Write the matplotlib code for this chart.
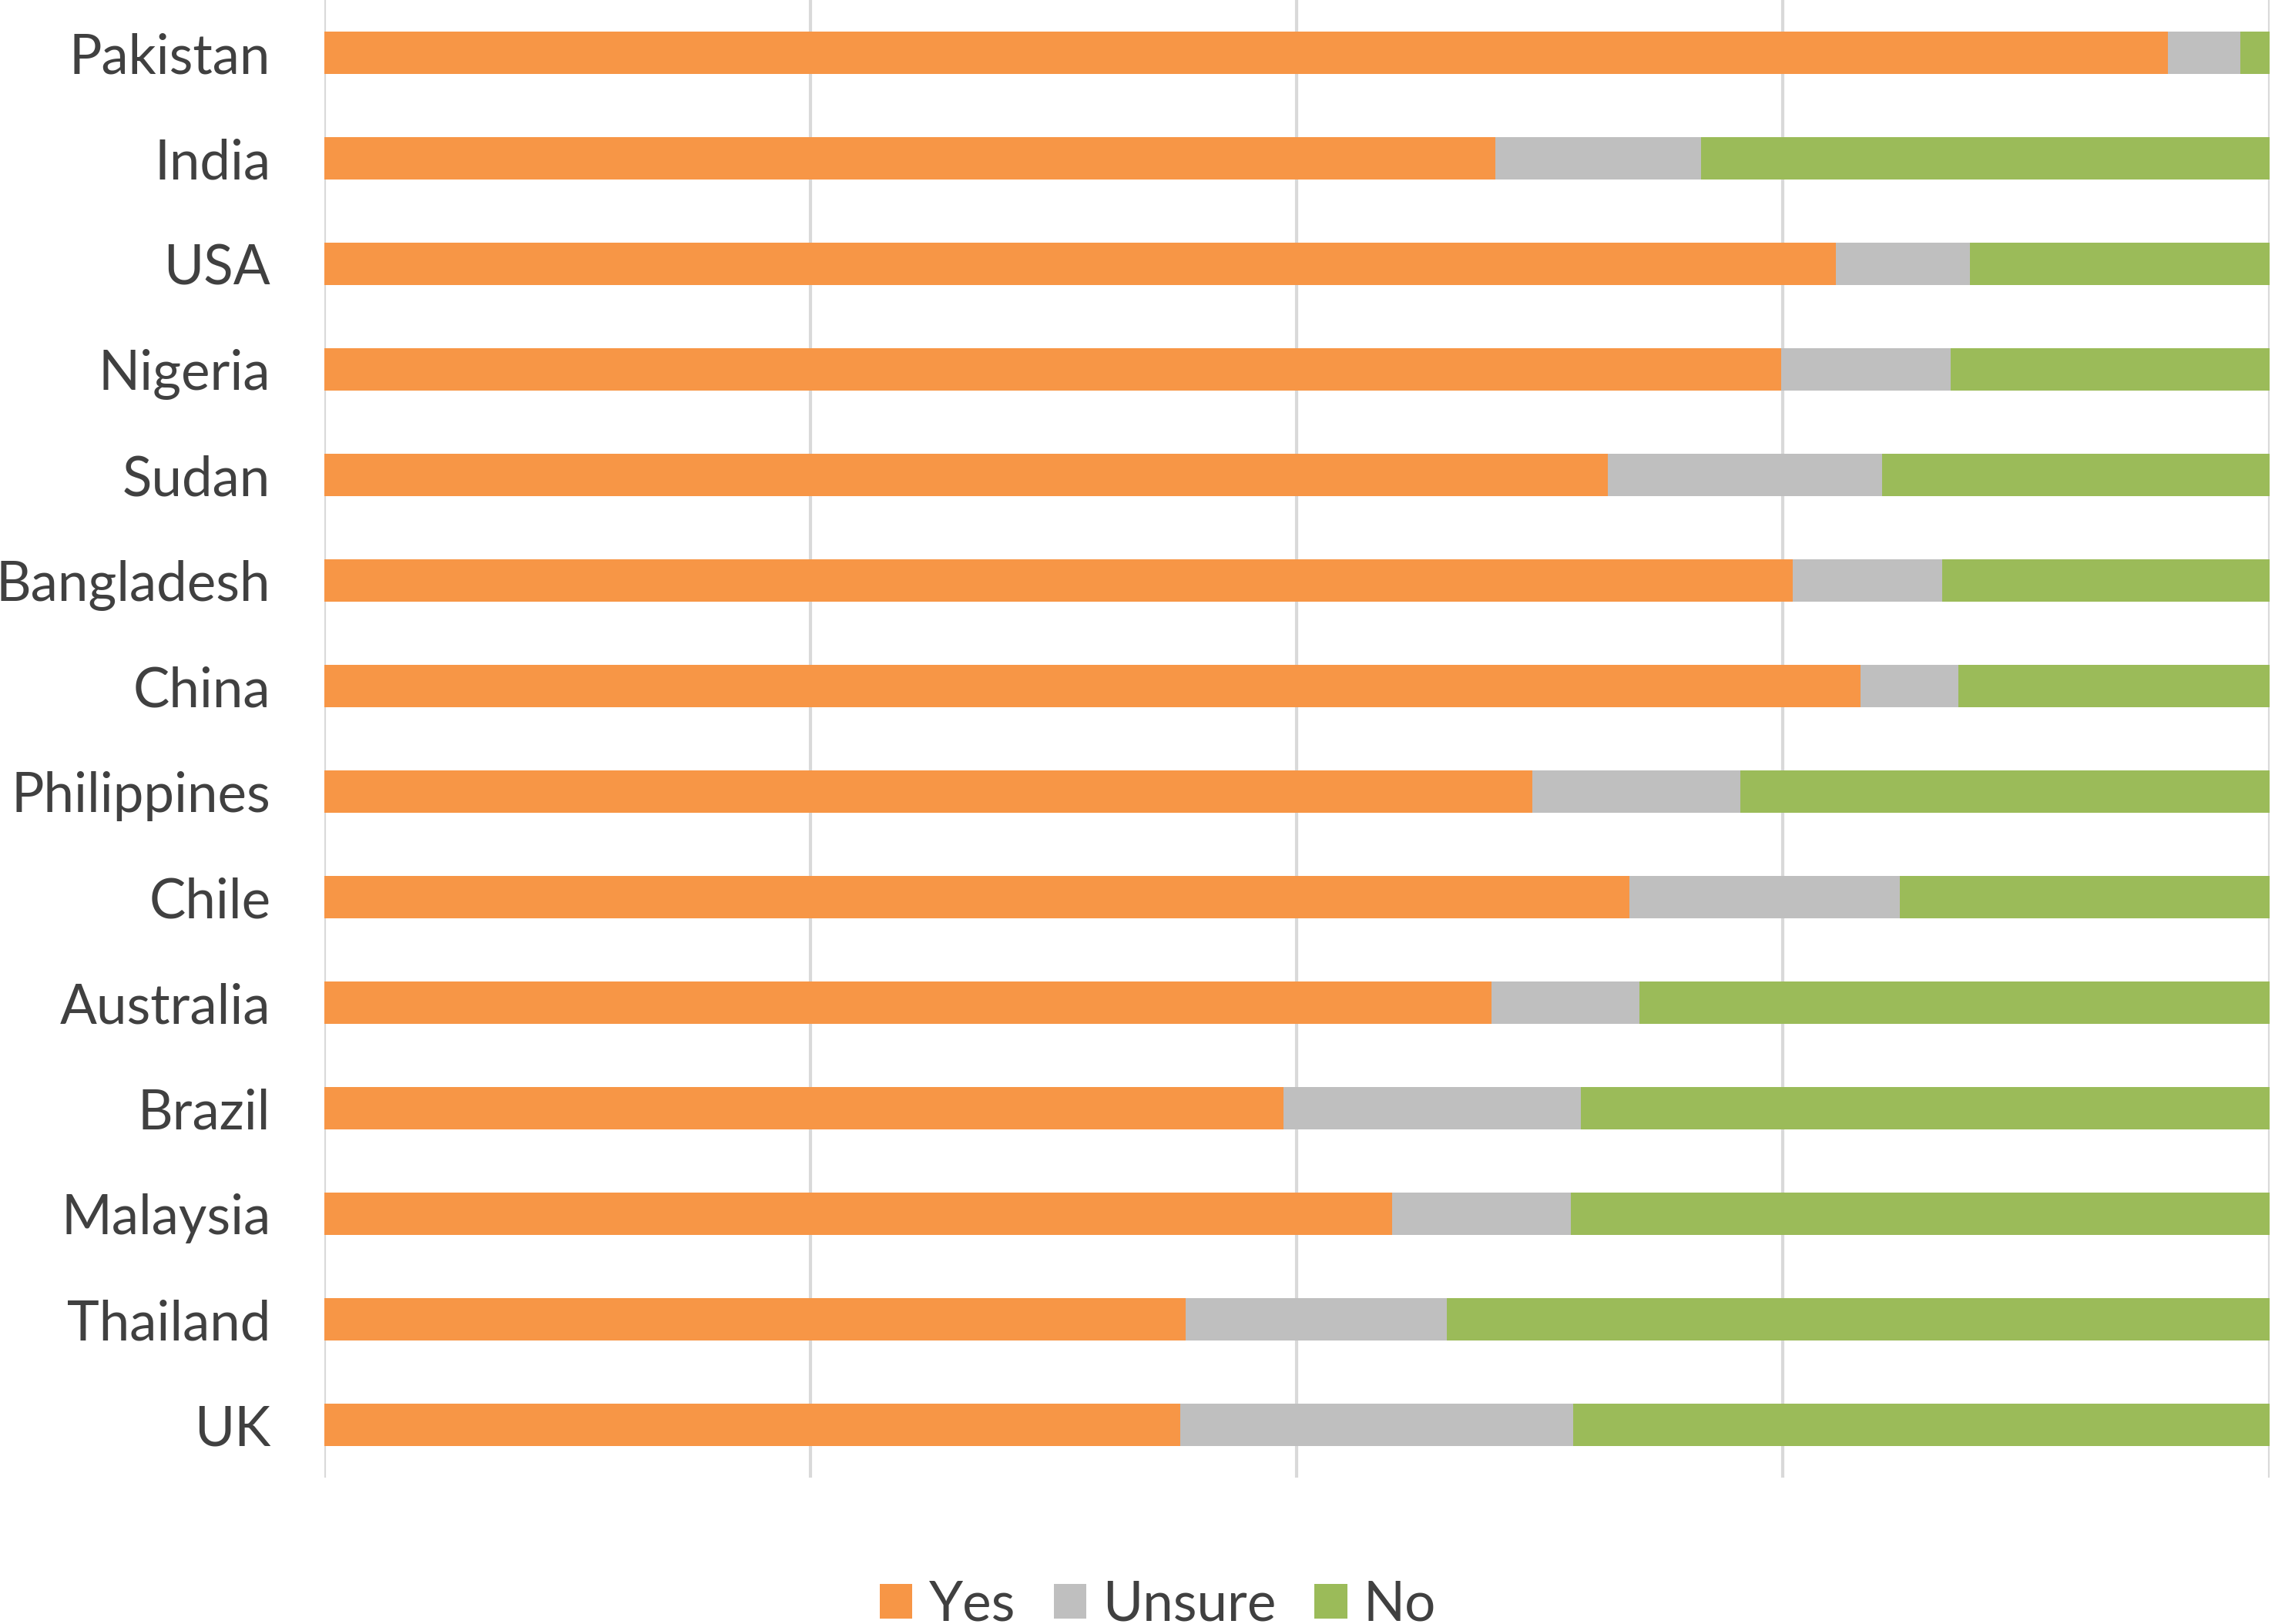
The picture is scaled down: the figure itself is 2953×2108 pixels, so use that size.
import matplotlib
matplotlib.use("Agg")
import matplotlib.pyplot as plt
import numpy as np

countries = ["Pakistan", "India", "USA", "Nigeria", "Sudan", "Bangladesh", "China",
             "Philippines", "Chile", "Australia", "Brazil", "Malaysia", "Thailand", "UK"]
yes = [94.8, 60.2, 77.7, 74.9, 66.0, 75.5, 79.0, 62.1, 67.1, 60.0, 49.3, 54.9, 44.3, 44.0]
unsure = [3.7, 10.6, 6.9, 8.7, 14.1, 7.7, 5.0, 10.7, 13.9, 7.6, 15.3, 9.2, 13.4, 20.2]
no = [1.5, 29.2, 15.4, 16.4, 19.9, 16.8, 16.0, 27.2, 19.0, 32.4, 35.4, 35.9, 42.3, 35.8]

series = [("Yes", yes, "#F79646"), ("Unsure", unsure, "#BFBFBF"), ("No", no, "#9BBB59")]

plt.rcParams["font.family"] = ["Lato", "DejaVu Sans"]

fig = plt.figure(figsize=(29.53, 21.08), dpi=100)
ax = fig.add_axes([0.1425, 0.09, 0.855, 0.91])

y = np.arange(len(countries))
left = np.zeros(len(countries))
for name, vals, col in series:
    vals = np.array(vals)
    ax.barh(y, vals, left=left, height=0.4, color=col, label=name, zorder=3)
    left += vals

ax.set_xlim(0, 100)
ax.set_ylim(len(countries) - 0.5, -0.5)
ax.set_yticks(y)
ax.set_yticklabels(countries, fontsize=51, color="#404040")
ax.set_xticks([0, 25, 50, 75, 100])
ax.set_xticklabels([])
ax.tick_params(axis="both", length=0, pad=50)
ax.grid(axis="x", color="#D9D9D9", linewidth=3, zorder=0)
for s in ax.spines.values():
    s.set_visible(False)

fig.legend(loc="center", bbox_to_anchor=(0.509, 0.012), ncol=3, frameon=False,
           fontsize=51, labelcolor="#404040", handlelength=0.6, handleheight=0.6,
           handletextpad=0.3, columnspacing=0.7)

fig.savefig("out.png", dpi=100)
